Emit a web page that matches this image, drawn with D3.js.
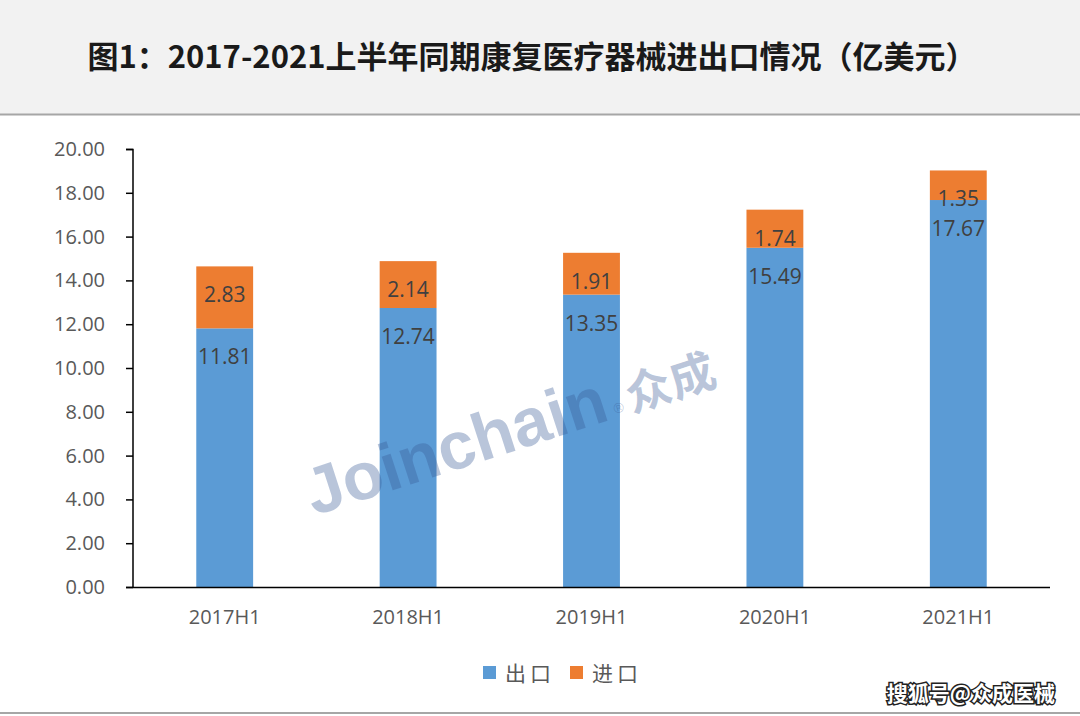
<!DOCTYPE html>
<html>
<head>
<meta charset="utf-8">
<script src="https://cdn.jsdelivr.net/npm/d3@7"></script>
<style>
  body { margin: 0; background: #fff; }
  svg { display: block; }
</style>
</head>
<body>
<div id="chart"></div>
<script>
var categories = ["2017H1", "2018H1", "2019H1", "2020H1", "2021H1"];
var exportVals = [11.81, 12.74, 13.35, 15.49, 17.67];
var importVals = [2.83, 2.14, 1.91, 1.74, 1.35];
var yTicks     = [0, 2, 4, 6, 8, 10, 12, 14, 16, 18, 20];
var seriesNames = ["出口", "进口"];
var colors      = ["#5b9bd5", "#ed7d31"];

var W = 1080, H = 716;
var svg = d3.select("#chart").append("svg")
    .attr("width", W).attr("height", H);

// header band
svg.append("rect").attr("x", 0).attr("y", 0).attr("width", W).attr("height", 114)
    .attr("fill", "#f2f2f2");
svg.append("line").attr("x1", 0).attr("x2", W).attr("y1", 114.5).attr("y2", 114.5)
    .attr("stroke", "#a6a6a6").attr("stroke-width", 2);
svg.append("text")
    .attr("x", 532).attr("y", 68)
    .attr("text-anchor", "middle")
    .attr("font-family", "'Noto Sans CJK SC', sans-serif")
    .attr("font-weight", "bold")
    .attr("font-size", 31)
    .attr("fill", "#1a1a1a")
    .text("图1：2017-2021上半年同期康复医疗器械进出口情况（亿美元）");

var x = d3.scaleBand().domain(categories).range([133, 1050])
    .paddingInner(0.69).paddingOuter(0.345);
var y = d3.scaleLinear().domain([0, 20]).range([587, 149]);

var data = categories.map(function(c, i) {
  return {cat: c, exp: exportVals[i], imp: importVals[i]};
});

// bars
var g = svg.append("g");
g.selectAll(".exp").data(data).enter().append("rect")
    .attr("x", function(d) { return x(d.cat); })
    .attr("width", x.bandwidth())
    .attr("y", function(d) { return y(d.exp); })
    .attr("height", function(d) { return y(0) - y(d.exp); })
    .attr("fill", colors[0]);
g.selectAll(".imp").data(data).enter().append("rect")
    .attr("x", function(d) { return x(d.cat); })
    .attr("width", x.bandwidth())
    .attr("y", function(d) { return y(d.exp + d.imp); })
    .attr("height", function(d) { return y(d.exp) - y(d.exp + d.imp); })
    .attr("fill", colors[1]);

// data labels
var lblFont = "'Open Sans', sans-serif";
g.selectAll(".lexp").data(data).enter().append("text")
    .attr("x", function(d) { return x(d.cat) + x.bandwidth() / 2; })
    .attr("y", function(d) { return y(d.exp) + 36; })
    .attr("text-anchor", "middle")
    .attr("font-family", lblFont).attr("font-size", 21)
    .attr("fill", "#404040")
    .text(function(d) { return d.exp.toFixed(2); });
g.selectAll(".limp").data(data).enter().append("text")
    .attr("x", function(d) { return x(d.cat) + x.bandwidth() / 2; })
    .attr("y", function(d) { return y(d.exp + d.imp) + 36; })
    .attr("text-anchor", "middle")
    .attr("font-family", lblFont).attr("font-size", 21)
    .attr("fill", "#404040")
    .text(function(d) { return d.imp.toFixed(2); });

// axes
var yAxis = svg.append("g")
    .attr("transform", "translate(133,0)")
    .call(d3.axisLeft(y).tickValues(yTicks).tickSize(7).tickPadding(21)
      .tickFormat(function(d) { return d.toFixed(2); }));
yAxis.selectAll("line").attr("stroke", "#000").attr("stroke-width", 1.5);
yAxis.select(".domain").attr("stroke", "#000").attr("stroke-width", 1.5)
    .attr("d", "M-7,149.5H0V587.5");
yAxis.selectAll("text").attr("font-family", lblFont).attr("font-size", 20)
    .attr("fill", "#595959");

var xAxis = svg.append("g")
    .attr("transform", "translate(0,587)")
    .call(d3.axisBottom(x).tickSize(0).tickPadding(23));
xAxis.select(".domain").attr("stroke", "#000").attr("stroke-width", 1.5)
    .attr("d", "M126,0.5H1050");
xAxis.selectAll("text").attr("font-family", lblFont).attr("font-size", 20)
    .attr("fill", "#595959");

// watermark
var wm = svg.append("g")
    .attr("transform", "translate(314,516) rotate(-18)")
    .attr("fill", "rgb(55,89,149)").attr("fill-opacity", 0.35);
wm.append("text")
    .attr("font-family", "'Liberation Sans', Arial, sans-serif")
    .attr("font-weight", "bold").attr("font-size", 67)
    .text("Joinchain");
wm.append("text").attr("x", 318).attr("y", -4)
    .attr("font-family", "'Liberation Sans', Arial, sans-serif")
    .attr("font-size", 14).text("®");
wm.append("text").attr("x", 334).attr("y", 0)
    .attr("font-family", "'Noto Sans CJK SC', sans-serif")
    .attr("font-weight", "bold")
    .attr("font-size", 46).text("众成");

// legend
var leg = svg.append("g").attr("transform", "translate(483,673)");
seriesNames.forEach(function(n, i) {
  var lx = i * 87;
  leg.append("rect").attr("x", lx).attr("y", -7).attr("width", 13).attr("height", 13)
      .attr("fill", colors[i]);
  leg.append("text").attr("x", lx + 22).attr("y", 8)
      .attr("font-family", "'Noto Sans CJK SC', sans-serif")
      .attr("font-size", 21).attr("letter-spacing", 4)
      .attr("fill", "#595959")
      .text(n);
});

// footer
svg.append("line").attr("x1", 0).attr("x2", W).attr("y1", 713).attr("y2", 713)
    .attr("stroke", "#a6a6a6").attr("stroke-width", 2);
svg.append("text")
    .attr("x", 1055).attr("y", 701)
    .attr("text-anchor", "end")
    .attr("font-family", "'Noto Sans CJK SC', sans-serif")
    .attr("font-weight", "bold").attr("font-size", 21)
    .attr("fill", "#fff").attr("stroke", "#222").attr("stroke-width", 3)
    .attr("paint-order", "stroke")
    .text("搜狐号@众成医械");
</script>
</body>
</html>
